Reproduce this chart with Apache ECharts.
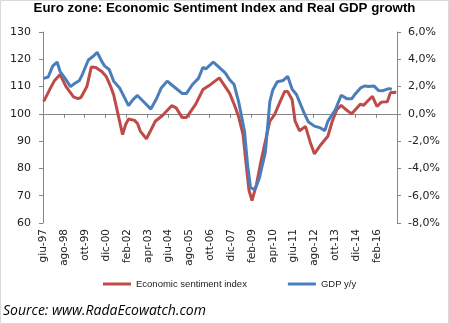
<!DOCTYPE html>
<html>
<head>
<meta charset="utf-8">
<script src="https://cdn.jsdelivr.net/npm/echarts@6/dist/echarts.min.js"></script>
<style>html,body{margin:0;padding:0;background:#fff;}#c{width:449px;height:324px;}</style>
</head>
<body>
<div id="c"></div>
<script>
// Monthly category axis: giu-97 .. mar-17
const monthNames = ['gen','feb','mar','apr','mag','giu','lug','ago','set','ott','nov','dic'];
const startYear = 1997, startMonth = 6, monthCount = 238;

// Economic sentiment index (left axis)
const esiDates = ['1997-06','1997-10','1998-01','1998-05','1998-09','1999-02','1999-05','1999-07','1999-11','2000-02','2000-05','2000-09','2000-12','2001-03','2001-05','2001-08','2001-11','2002-01','2002-03','2002-07','2002-09','2002-11','2003-03','2003-06','2003-09','2004-02','2004-08','2004-11','2005-03','2005-06','2005-12','2006-05','2006-10','2007-04','2007-08','2007-11','2008-02','2008-05','2008-08','2008-10','2008-12','2009-02','2009-05','2009-08','2009-12','2010-02','2010-05','2010-09','2010-12','2011-02','2011-05','2011-07','2011-10','2012-02','2012-05','2012-08','2012-12','2013-05','2013-08','2013-11','2014-02','2014-06','2014-09','2014-11','2015-03','2015-05','2015-08','2015-11','2016-02','2016-05','2016-09','2016-11','2017-02','2017-03'];
const esiValues = [104.6,108.9,112,114.4,110,106.2,105.6,106,110,117.2,117,115.5,113.7,110,107,99.7,92.4,96,98.1,97.6,96.5,93.6,90.9,94,97.3,99.5,103,102.2,98.7,98.7,103.4,108.9,110.7,113.2,110,107.5,103.5,99,92.4,82,72,68.2,74.1,82.5,92.4,97.3,99.5,104.6,108.2,108.2,105.2,97.3,93.8,95.4,89.9,85.3,88.5,91.8,97.3,101.5,103.1,101.2,100,101.2,103.6,103.1,104.8,106.4,102.7,104.3,104.4,107.7,107.9,107.8];

// Real GDP growth y/y, % (right axis)
const gdpDates = ['1997-06','1997-09','1997-12','1998-03','1998-05','1998-07','1998-09','1998-12','1999-03','1999-06','1999-08','1999-12','2000-03','2000-06','2000-09','2000-11','2001-02','2001-05','2001-09','2002-03','2002-06','2002-09','2003-02','2003-06','2003-10','2004-01','2004-05','2004-10','2005-03','2005-06','2005-10','2006-02','2006-05','2006-07','2006-12','2007-03','2007-08','2007-11','2008-02','2008-05','2008-09','2008-11','2009-01','2009-04','2009-07','2009-11','2010-02','2010-04','2010-07','2010-11','2011-02','2011-05','2011-08','2012-01','2012-04','2012-08','2012-12','2013-03','2013-05','2013-10','2014-02','2014-06','2014-09','2014-11','2015-03','2015-06','2015-08','2015-12','2016-03','2016-06','2016-10','2016-12'];
const gdpValues = [2.6,2.7,3.5,3.8,3.1,2.8,2.5,2.0,2.25,2.45,2.9,3.95,4.2,4.5,3.85,3.5,3.25,2.4,1.9,0.6,1.05,1.35,0.8,0.35,1.15,1.9,2.4,1.95,1.5,1.5,2.15,2.6,3.4,3.3,3.8,3.5,3.0,2.5,2.15,0.9,-1.3,-3.7,-5.4,-5.55,-4.7,-2.8,0.9,1.75,2.35,2.45,2.75,1.8,1.4,0.07,-0.6,-0.9,-1.03,-1.23,-0.55,0.3,1.36,1.1,1.1,1.4,1.9,2.05,2.0,2.05,1.72,1.7,1.85,1.8];

const leftTicks = {min: 60, max: 130, interval: 10};
const rightTicks = {min: -8, max: 6, interval: 2};

const categories = [];
for (let k = 0; k < monthCount; k++) {
  const m = (startMonth - 1 + k) % 12;
  const y = startYear + Math.floor((startMonth - 1 + k) / 12);
  categories.push(monthNames[m] + '-' + String(y % 100).padStart(2, '0'));
}
function idx(d) {
  const [y, m] = d.split('-').map(Number);
  return (y - startYear) * 12 + (m - startMonth);
}
const esiData = esiDates.map((d, i) => [idx(d), esiValues[i]]);
const gdpData = gdpDates.map((d, i) => [idx(d), gdpValues[i]]);

const axisColor = '#868686';
const textColor = '#222';
const chart = echarts.init(document.getElementById('c'), null, {renderer: 'canvas'});
chart.setOption({
  animation: false,
  backgroundColor: '#fff',
  title: [{
    text: 'Euro zone: Economic Sentiment Index and Real GDP growth',
    left: 'center', top: 2, padding: 0,
    textStyle: {fontFamily: 'Liberation Sans, Arial', fontWeight: 'bold', fontSize: 13.3, color: '#000'}
  }, {
    text: 'Source: www.RadaEcowatch.com',
    left: 3, top: 304, padding: 0,
    textStyle: {fontFamily: 'Open Sans', fontStyle: 'italic', fontWeight: 'normal', fontSize: 14, color: '#000'}
  }],
  legend: {
    left: 103, top: 279, padding: 0,
    itemWidth: 28, itemHeight: 3, itemGap: 41,
    icon: 'rect',
    textStyle: {fontFamily: 'Liberation Sans, Arial', fontSize: 9.5, color: textColor},
    data: ['Economic sentiment index', 'GDP y/y']
  },
  grid: {left: 43, right: 52, top: 32, bottom: 101, containLabel: false},
  xAxis: {
    type: 'category',
    data: categories,
    boundaryGap: true,
    axisLine: {lineStyle: {color: axisColor, width: 1}},
    axisTick: {show: true, interval: 13, length: 4, lineStyle: {color: axisColor}},
    axisLabel: {interval: 13, rotate: 90, margin: 6, fontFamily: 'DejaVu Sans', fontSize: 10.5, color: textColor},
    splitLine: {show: false}
  },
  yAxis: [{
    type: 'value',
    min: leftTicks.min, max: leftTicks.max, interval: leftTicks.interval,
    axisLine: {show: true, lineStyle: {color: axisColor}},
    axisTick: {show: true, length: 4, lineStyle: {color: axisColor}},
    axisLabel: {margin: 12, fontFamily: 'DejaVu Sans', fontSize: 11, color: textColor},
    splitLine: {show: false}
  }, {
    type: 'value',
    min: rightTicks.min, max: rightTicks.max, interval: rightTicks.interval,
    position: 'right',
    axisLine: {show: true, lineStyle: {color: axisColor}},
    axisTick: {show: true, length: 4, lineStyle: {color: axisColor}},
    axisLabel: {margin: 11, fontFamily: 'DejaVu Sans', fontSize: 11, color: textColor,
      formatter: v => v.toFixed(1).replace('.', ',') + '%'},
    splitLine: {show: false}
  }],
  series: [{
    name: 'Economic sentiment index',
    type: 'line', yAxisIndex: 0,
    data: esiData, symbol: 'none', smooth: false,
    lineStyle: {width: 3, color: '#BE4B48'}, itemStyle: {color: '#BE4B48'}
  }, {
    name: 'GDP y/y',
    type: 'line', yAxisIndex: 1,
    data: gdpData, symbol: 'none', smooth: false,
    lineStyle: {width: 3, color: '#4A7EBB'}, itemStyle: {color: '#4A7EBB'}
  }],
  graphic: [{
    type: 'rect', silent: true,
    shape: {x: 0.5, y: 0.5, width: 448, height: 323},
    style: {fill: 'none', stroke: '#d9d9d9', lineWidth: 1}
  }]
});
</script>
</body>
</html>
